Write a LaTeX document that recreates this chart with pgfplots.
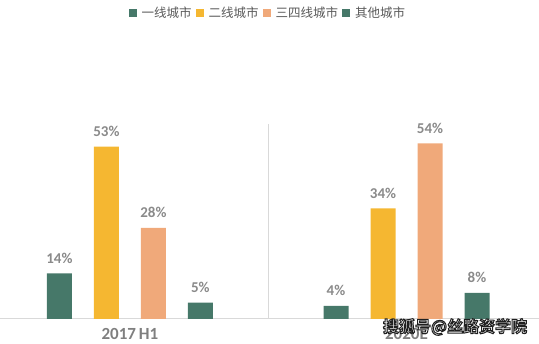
\documentclass[border=0pt]{standalone}
\usepackage{pgfplots}
\pgfplotsset{compat=1.18}
\usepackage{fontspec}
\setmainfont{Carlito}
\newfontfamily\cjk{Noto Sans CJK SC}
\newfontfamily\cjkb{Noto Sans CJK SC Bold}
\definecolor{cteal}{HTML}{467869}
\definecolor{cyel}{HTML}{F5B731}
\definecolor{csal}{HTML}{F0A97A}
\definecolor{clab}{HTML}{8A8A8A}
\definecolor{ccat}{HTML}{7F7F7F}
\definecolor{cleg}{HTML}{595959}
\definecolor{cgrid}{HTML}{D9D9D9}
\begin{document}
\begin{tikzpicture}[x=1pt,y=1pt]
\path[use as bounding box] (0,0) rectangle (539,344);
\begin{axis}[
  at={(0pt,25pt)}, anchor=south west,
  scale only axis, width=539pt, height=195pt,
  xmin=-0.4696, xmax=1.479, ymin=0, ymax=60,
  ybar=22pt, bar width=25pt,
  axis x line*=bottom, axis y line=none,
  axis line style={cgrid, line width=1pt},
  xtick={0,1}, xticklabels={2017\,H1,2020E},
  major tick length=0pt,
  xticklabel style={font=\bfseries\fontsize{17}{17}\selectfont, text=ccat, yshift=-6pt},
  extra x ticks={0.5}, extra x tick labels={},
  extra x tick style={grid=major, major grid style={cgrid, line width=1pt}},
  /pgf/number format/assume math mode=true,
  nodes near coords={\pgfmathprintnumber{\pgfplotspointmeta}\%},
  every node near coord/.append style={font=\bfseries\fontsize{15}{15}\selectfont, text=clab, inner sep=0pt, anchor=south, yshift=10pt},
  legend columns=4,
  legend style={at={(axis description cs:0.497,1.569)}, anchor=center, draw=none, fill=none,
    font=\cjk\fontsize{12.5}{13}\selectfont, text=cleg, inner sep=0pt,
    /tikz/every odd column/.append style={column sep=3pt},
    /tikz/every even column/.append style={column sep=2pt}},
  legend image code/.code={\fill[#1] (0pt,-4pt) rectangle (8pt,4pt);},
  clip=false,
]
\addplot[fill=cteal, draw=none] coordinates {(0,14) (1,4)};
\addlegendentry{一线城市}
\addplot[fill=cyel, draw=none] coordinates {(0,53) (1,34)};
\addlegendentry{二线城市}
\addplot[fill=csal, draw=none] coordinates {(0,28) (1,54)};
\addlegendentry{三四线城市}
\addplot[fill=cteal, draw=none] coordinates {(0,5) (1,8)};
\addlegendentry{其他城市}
\end{axis}
\node[text=white, font=\cjkb\fontsize{16}{17}\selectfont] at (455,17) {\special{pdf:literal direct 2 Tr 1 w 0.12 0.12 0.12 RG}搜狐号@丝路资学院\special{pdf:literal direct 0 Tr}};
\end{tikzpicture}
\end{document}
